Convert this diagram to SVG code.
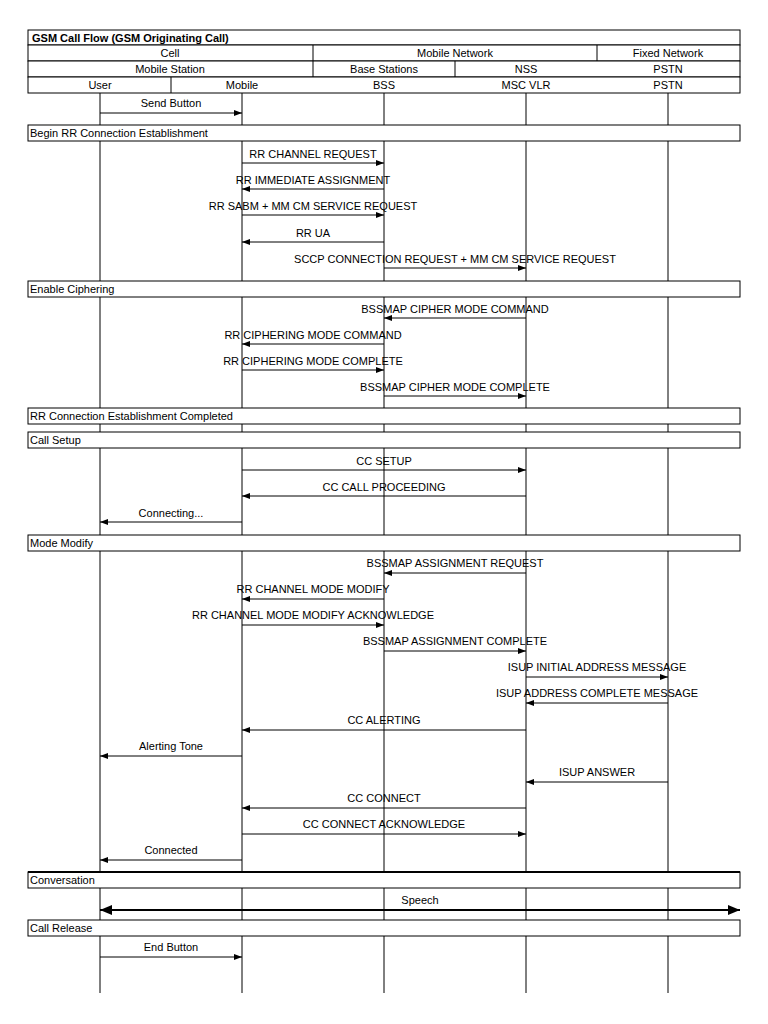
<svg xmlns="http://www.w3.org/2000/svg" width="768" height="1024" viewBox="0 0 768 1024">
<style>
text{font-family:"Liberation Sans Narrow","Liberation Sans",Arial,sans-serif;font-size:11px;fill:#000}
.c{text-anchor:middle}
.b{font-weight:bold}
.box{fill:#fff;stroke:#000;stroke-width:1}
.ll{stroke:#000;stroke-width:1}
.m{stroke:#000;stroke-width:1;marker-end:url(#ah)}
</style>
<defs><marker id="ah" markerWidth="8" markerHeight="6" refX="8" refY="3" orient="auto" markerUnits="userSpaceOnUse"><path d="M0,0L8,3L0,6z" fill="#000"/></marker>
<marker id="ahs" markerWidth="12" markerHeight="10" refX="0" refY="5" orient="auto" markerUnits="userSpaceOnUse"><path d="M12,0L0,5L12,10z" fill="#000"/></marker>
<marker id="ahe" markerWidth="12" markerHeight="10" refX="12" refY="5" orient="auto" markerUnits="userSpaceOnUse"><path d="M0,0L12,5L0,10z" fill="#000"/></marker></defs>
<rect width="768" height="1024" fill="#fff"/>
<g id="lifelines">
<line class="ll" x1="100" y1="93" x2="100" y2="993"/>
<line class="ll" x1="242" y1="93" x2="242" y2="993"/>
<line class="ll" x1="384" y1="93" x2="384" y2="993"/>
<line class="ll" x1="526" y1="93" x2="526" y2="993"/>
<line class="ll" x1="668" y1="93" x2="668" y2="993"/>
</g>
<g id="header">
<rect class="box" x="28" y="30" width="712" height="15"/>
<text class="b" x="32" y="42">GSM Call Flow (GSM Originating Call)</text>
<rect class="box" x="28" y="45" width="712" height="16"/>
<line class="ll" x1="313" y1="45" x2="313" y2="77"/><line class="ll" x1="597" y1="45" x2="597" y2="93"/>
<text class="c" x="170" y="57">Cell</text><text class="c" x="455" y="57">Mobile Network</text><text class="c" x="668" y="57">Fixed Network</text>
<rect class="box" x="28" y="61" width="712" height="16"/>
<line class="ll" x1="455" y1="61" x2="455" y2="93"/><line class="ll" x1="313" y1="61" x2="313" y2="93"/>
<text class="c" x="170" y="73">Mobile Station</text><text class="c" x="384" y="73">Base Stations</text><text class="c" x="526" y="73">NSS</text><text class="c" x="668" y="73">PSTN</text>
<rect class="box" x="28" y="77" width="712" height="16"/>
<line class="ll" x1="171" y1="77" x2="171" y2="93"/>
<text class="c" x="100" y="89">User</text><text class="c" x="242" y="89">Mobile</text><text class="c" x="384" y="89">BSS</text><text class="c" x="526" y="89">MSC VLR</text><text class="c" x="668" y="89">PSTN</text>
</g>
<g id="sections">
<rect class="box" x="28" y="125" width="712" height="16"/><text x="30" y="137">Begin RR Connection Establishment</text>
<rect class="box" x="28" y="281" width="712" height="16"/><text x="30" y="293">Enable Ciphering</text>
<rect class="box" x="28" y="408" width="712" height="16"/><text x="30" y="420">RR Connection Establishment Completed</text>
<rect class="box" x="28" y="432" width="712" height="16"/><text x="30" y="444">Call Setup</text>
<rect class="box" x="28" y="535" width="712" height="16"/><text x="30" y="547">Mode Modify</text>
<rect class="box" x="28" y="872" width="712" height="16"/><line x1="28" y1="872" x2="740" y2="872" stroke="#000" stroke-width="2"/><text x="30" y="884">Conversation</text>
<rect class="box" x="28" y="920" width="712" height="16"/><text x="30" y="932">Call Release</text>
</g>
<g id="connectors">
<line class="m" x1="100" y1="113" x2="242" y2="113"/><text class="c" x="171" y="107">Send Button</text>
<line class="m" x1="242" y1="163" x2="384" y2="163"/><text class="c" x="313" y="158">RR CHANNEL REQUEST</text>
<line class="m" x1="384" y1="189" x2="242" y2="189"/><text class="c" x="313" y="184">RR IMMEDIATE ASSIGNMENT</text>
<line class="m" x1="242" y1="215" x2="384" y2="215"/><text class="c" x="313" y="210">RR SABM + MM CM SERVICE REQUEST</text>
<line class="m" x1="384" y1="242" x2="242" y2="242"/><text class="c" x="313" y="237">RR UA</text>
<line class="m" x1="384" y1="268" x2="526" y2="268"/><text class="c" x="455" y="263">SCCP CONNECTION REQUEST + MM CM SERVICE REQUEST</text>
<line class="m" x1="526" y1="318" x2="384" y2="318"/><text class="c" x="455" y="313">BSSMAP CIPHER MODE COMMAND</text>
<line class="m" x1="384" y1="344" x2="242" y2="344"/><text class="c" x="313" y="339">RR CIPHERING MODE COMMAND</text>
<line class="m" x1="242" y1="370" x2="384" y2="370"/><text class="c" x="313" y="365">RR CIPHERING MODE COMPLETE</text>
<line class="m" x1="384" y1="396" x2="526" y2="396"/><text class="c" x="455" y="391">BSSMAP CIPHER MODE COMPLETE</text>
<line class="m" x1="242" y1="470" x2="526" y2="470"/><text class="c" x="384" y="465">CC SETUP</text>
<line class="m" x1="526" y1="496" x2="242" y2="496"/><text class="c" x="384" y="491">CC CALL PROCEEDING</text>
<line class="m" x1="242" y1="522" x2="100" y2="522"/><text class="c" x="171" y="517">Connecting...</text>
<line class="m" x1="526" y1="573" x2="384" y2="573"/><text class="c" x="455" y="567">BSSMAP ASSIGNMENT REQUEST</text>
<line class="m" x1="384" y1="599" x2="242" y2="599"/><text class="c" x="313" y="593">RR CHANNEL MODE MODIFY</text>
<line class="m" x1="242" y1="625" x2="384" y2="625"/><text class="c" x="313" y="619">RR CHANNEL MODE MODIFY ACKNOWLEDGE</text>
<line class="m" x1="384" y1="651" x2="526" y2="651"/><text class="c" x="455" y="645">BSSMAP ASSIGNMENT COMPLETE</text>
<line class="m" x1="526" y1="677" x2="668" y2="677"/><text class="c" x="597" y="671">ISUP INITIAL ADDRESS MESSAGE</text>
<line class="m" x1="668" y1="703" x2="526" y2="703"/><text class="c" x="597" y="697">ISUP ADDRESS COMPLETE MESSAGE</text>
<line class="m" x1="526" y1="730" x2="242" y2="730"/><text class="c" x="384" y="724">CC ALERTING</text>
<line class="m" x1="242" y1="756" x2="100" y2="756"/><text class="c" x="171" y="750">Alerting Tone</text>
<line class="m" x1="668" y1="782" x2="526" y2="782"/><text class="c" x="597" y="776">ISUP ANSWER</text>
<line class="m" x1="526" y1="808" x2="242" y2="808"/><text class="c" x="384" y="802">CC CONNECT</text>
<line class="m" x1="242" y1="834" x2="526" y2="834"/><text class="c" x="384" y="828">CC CONNECT ACKNOWLEDGE</text>
<line class="m" x1="242" y1="860" x2="100" y2="860"/><text class="c" x="171" y="854">Connected</text>
<line x1="100" y1="910" x2="740" y2="910" stroke="#000" stroke-width="2" marker-start="url(#ahs)" marker-end="url(#ahe)"/><text class="c" x="420" y="904">Speech</text>
<line class="m" x1="100" y1="957" x2="242" y2="957"/><text class="c" x="171" y="951">End Button</text>
</g>
</svg>
